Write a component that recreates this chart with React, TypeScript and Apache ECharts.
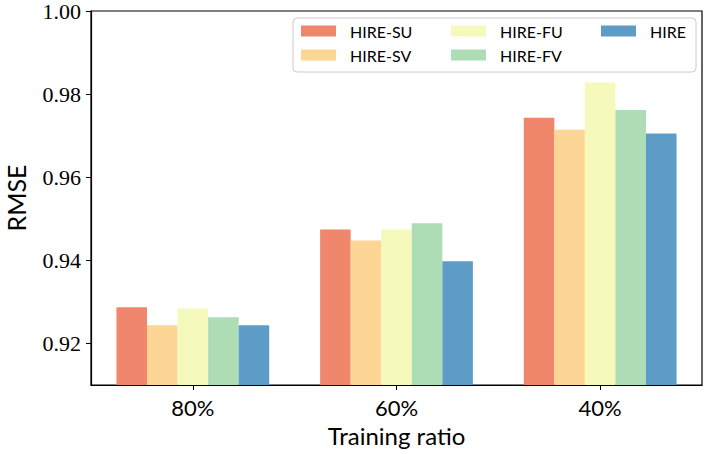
import React, { useEffect, useRef } from "react";
import * as echarts from "echarts";

const categories = ["80%", "60%", "40%"];
const seriesNames = ["HIRE-SU", "HIRE-SV", "HIRE-FU", "HIRE-FV", "HIRE"];
const hireSU = [0.9287, 0.9474, 0.9743];
const hireSV = [0.9244, 0.9448, 0.9714];
const hireFU = [0.9284, 0.9474, 0.9828];
const hireFV = [0.9263, 0.9489, 0.9762];
const hire = [0.9244, 0.9398, 0.9705];
const yTicks = [0.92, 0.94, 0.96, 0.98, 1.0];
const colors = ["#f0866c", "#fdd594", "#f5f9bc", "#aedcb4", "#5e9cc8"];

export default function App() {
  const ref = useRef<HTMLDivElement>(null);
  useEffect(() => {
    if (!ref.current) return;
    const chart = echarts.init(ref.current, null, { renderer: "svg" });
    const values = [hireSU, hireSV, hireFU, hireFV, hire];
    const sans = "Lato";
    const legendOrder = ["HIRE-SU", "HIRE-FU", "HIRE", "HIRE-SV", "HIRE-FV"];
    chart.setOption({
      animation: false,
      backgroundColor: "#ffffff",
      color: colors,
      grid: {
        left: 91,
        right: 5,
        top: 11,
        bottom: 69,
        containLabel: false,
        outerBoundsMode: "none",
        show: true,
        borderColor: "#000",
        borderWidth: 1.2,
        backgroundColor: "transparent",
      },
      legend: {
        left: 293,
        top: 18,
        width: 420,
        orient: "horizontal",
        padding: [5, 8, 9, 8],
        itemGap: 8,
        itemWidth: 35,
        itemHeight: 11,
        borderColor: "#cccccc",
        borderWidth: 1,
        borderRadius: 4,
        icon: "rect",
        selectedMode: false,
        textStyle: {
          fontFamily: sans,
          fontSize: 16,
          color: "#000",
          width: 93,
          lineHeight: 16,
          padding: [0, 0, 0, 9],
        },
        data: legendOrder.map((n) =>
          n === "HIRE"
            ? { name: n, textStyle: { width: 38 } }
            : { name: n }
        ),
      },
      xAxis: {
        type: "category",
        data: categories,
        name: "Training ratio",
        nameLocation: "middle",
        nameGap: 38,
        nameTextStyle: { fontFamily: sans, fontSize: 24, color: "#000" },
        axisLine: { show: true, lineStyle: { color: "#000", width: 1.2 } },
        axisTick: { show: true, alignWithLabel: true, length: 5, lineStyle: { color: "#000" } },
        axisLabel: { fontFamily: sans, fontSize: 22, color: "#000", margin: 11 },
        splitLine: { show: false },
      },
      yAxis: {
        type: "value",
        min: 0.91,
        max: 1.0,
        name: "RMSE",
        nameLocation: "middle",
        nameRotate: 90,
        nameGap: 63,
        nameTextStyle: { fontFamily: sans, fontSize: 25, color: "#000", lineHeight: 24 },
        axisLine: { show: true, lineStyle: { color: "#000", width: 1.2 } },
        axisTick: { show: true, length: 5, customValues: yTicks, lineStyle: { color: "#000" } },
        axisLabel: {
          fontFamily: "Liberation Serif",
          fontSize: 22,
          lineHeight: 18,
          color: "#000",
          margin: 10,
          customValues: yTicks,
          formatter: (v: number) => v.toFixed(2),
        },
        splitLine: { show: false },
      },
      series: seriesNames.map((name, i) => ({
        name,
        type: "bar",
        data: values[i],
        barWidth: "15%",
        barGap: "0%",
        itemStyle: { color: colors[i] },
      })),
    });
    return () => chart.dispose();
  }, []);
  return (
    <div
      ref={ref}
      style={{ position: "absolute", left: 0, top: 0, width: 707, height: 454 }}
    />
  );
}
